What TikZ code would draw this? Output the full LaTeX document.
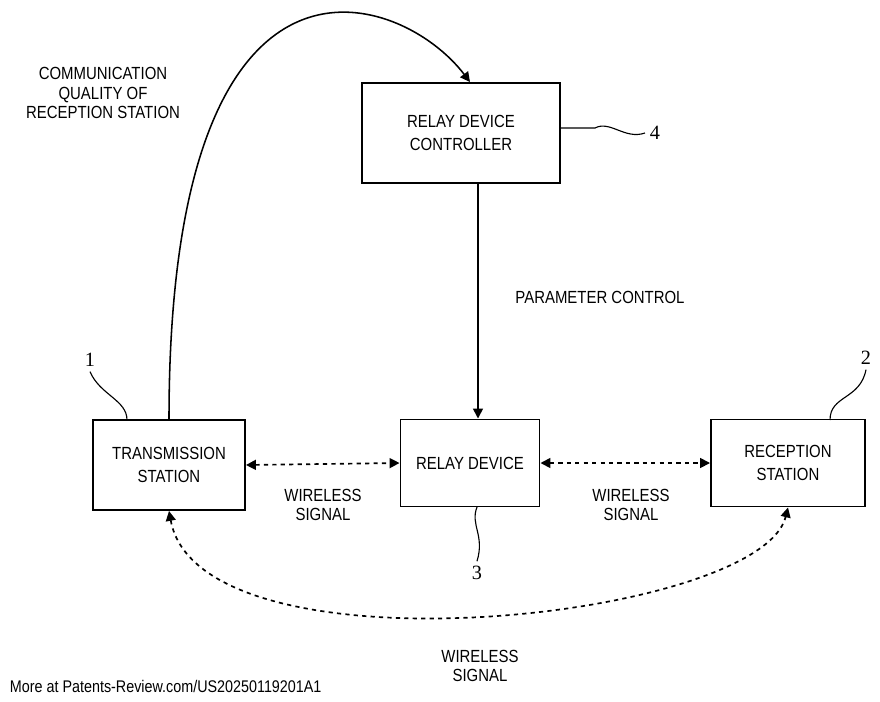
\documentclass[tikz,border=0pt]{standalone}
\usepackage{fontspec}
\setmainfont[FakeStretch=0.85]{Liberation Sans}
\usetikzlibrary{arrows.meta,positioning,calc}
\tikzset{
    blockbox/.style = {draw=black, line width=1.4pt, align=center, font=\fontsize{12.5}{16}\selectfont, inner sep=2pt},
    dashlink/.style = {dashed, line width=1.2pt, {Triangle[length=7pt,width=7pt]}-{Triangle[length=7pt,width=7pt]}},
    solidlink/.style = {line width=1.1pt, -{Triangle[length=7pt,width=7pt]}},
    lbl/.style = {align=center, font=\fontsize{12.5}{14}\selectfont},
    refnum/.style = {font=\fontspec{Liberation Serif}\Large},
}
\begin{document}
\begin{tikzpicture}[x=0.025cm,y=-0.025cm]
    \useasboundingbox (0,0) rectangle (880,702);
    \node (ctrl) [blockbox, minimum width=198*0.025cm, minimum height=100*0.025cm] at (461,133) {RELAY DEVICE\\CONTROLLER};
    \node (tx) [blockbox, minimum width=152*0.025cm, minimum height=90*0.025cm] at (169,465) {TRANSMISSION\\STATION};
    \node (relay) [blockbox, minimum width=139*0.025cm, minimum height=87*0.025cm] at (470,463) {RELAY DEVICE};
    \node (rx) [blockbox, minimum width=154*0.025cm, minimum height=87*0.025cm] at (788,463) {RECEPTION\\STATION};
    % connectors
    \draw [solidlink] (tx.north) .. controls (169,-90) and (400,-10) .. ($(ctrl.north)+(9,0)$);
    \draw [solidlink] ($(ctrl.south)+(17,0)$) -- ($(relay.north)+(8,0)$);
    \draw [dashlink] (tx.east) -- (relay.west);
    \draw [dashlink] (relay.east) -- (rx.west);
    \draw [dashlink] (tx.south) .. controls (200,680) and (760,620) .. (rx.south);
    % labels
    \node (qual) [lbl] at (103,93) {COMMUNICATION\\QUALITY OF\\RECEPTION STATION};
    \node (param) [lbl] at (600,297) {PARAMETER CONTROL};
    \node (ws1) [lbl] at (323,505) {WIRELESS\\SIGNAL};
    \node (ws2) [lbl] at (631,505) {WIRELESS\\SIGNAL};
    \node (ws3) [lbl] at (480,666) {WIRELESS\\SIGNAL};
    % reference numbers
    \node (n1) [refnum] at (90,360) {1};
    \node (n2) [refnum] at (866,358) {2};
    \node (n3) [refnum] at (477,573) {3};
    \node (n4) [refnum] at (655,133) {4};
    \draw [thick] (127,420) .. controls (127,400) and (100,395) .. (n1.south);
    \draw [thick] (830,420) .. controls (830,395) and (860,400) .. (n2.south);
    \draw [thick] (477,507) .. controls (470,525) and (485,535) .. (n3.north);
    \draw [thick] (560,128) -- (595,128) .. controls (610,120) and (625,140) .. (n4.west);
    \node (footer) [anchor=west, font=\fontsize{12}{14}\selectfont] at (5,686) {More at Patents-Review.com/US20250119201A1};
\end{tikzpicture}
\end{document}
